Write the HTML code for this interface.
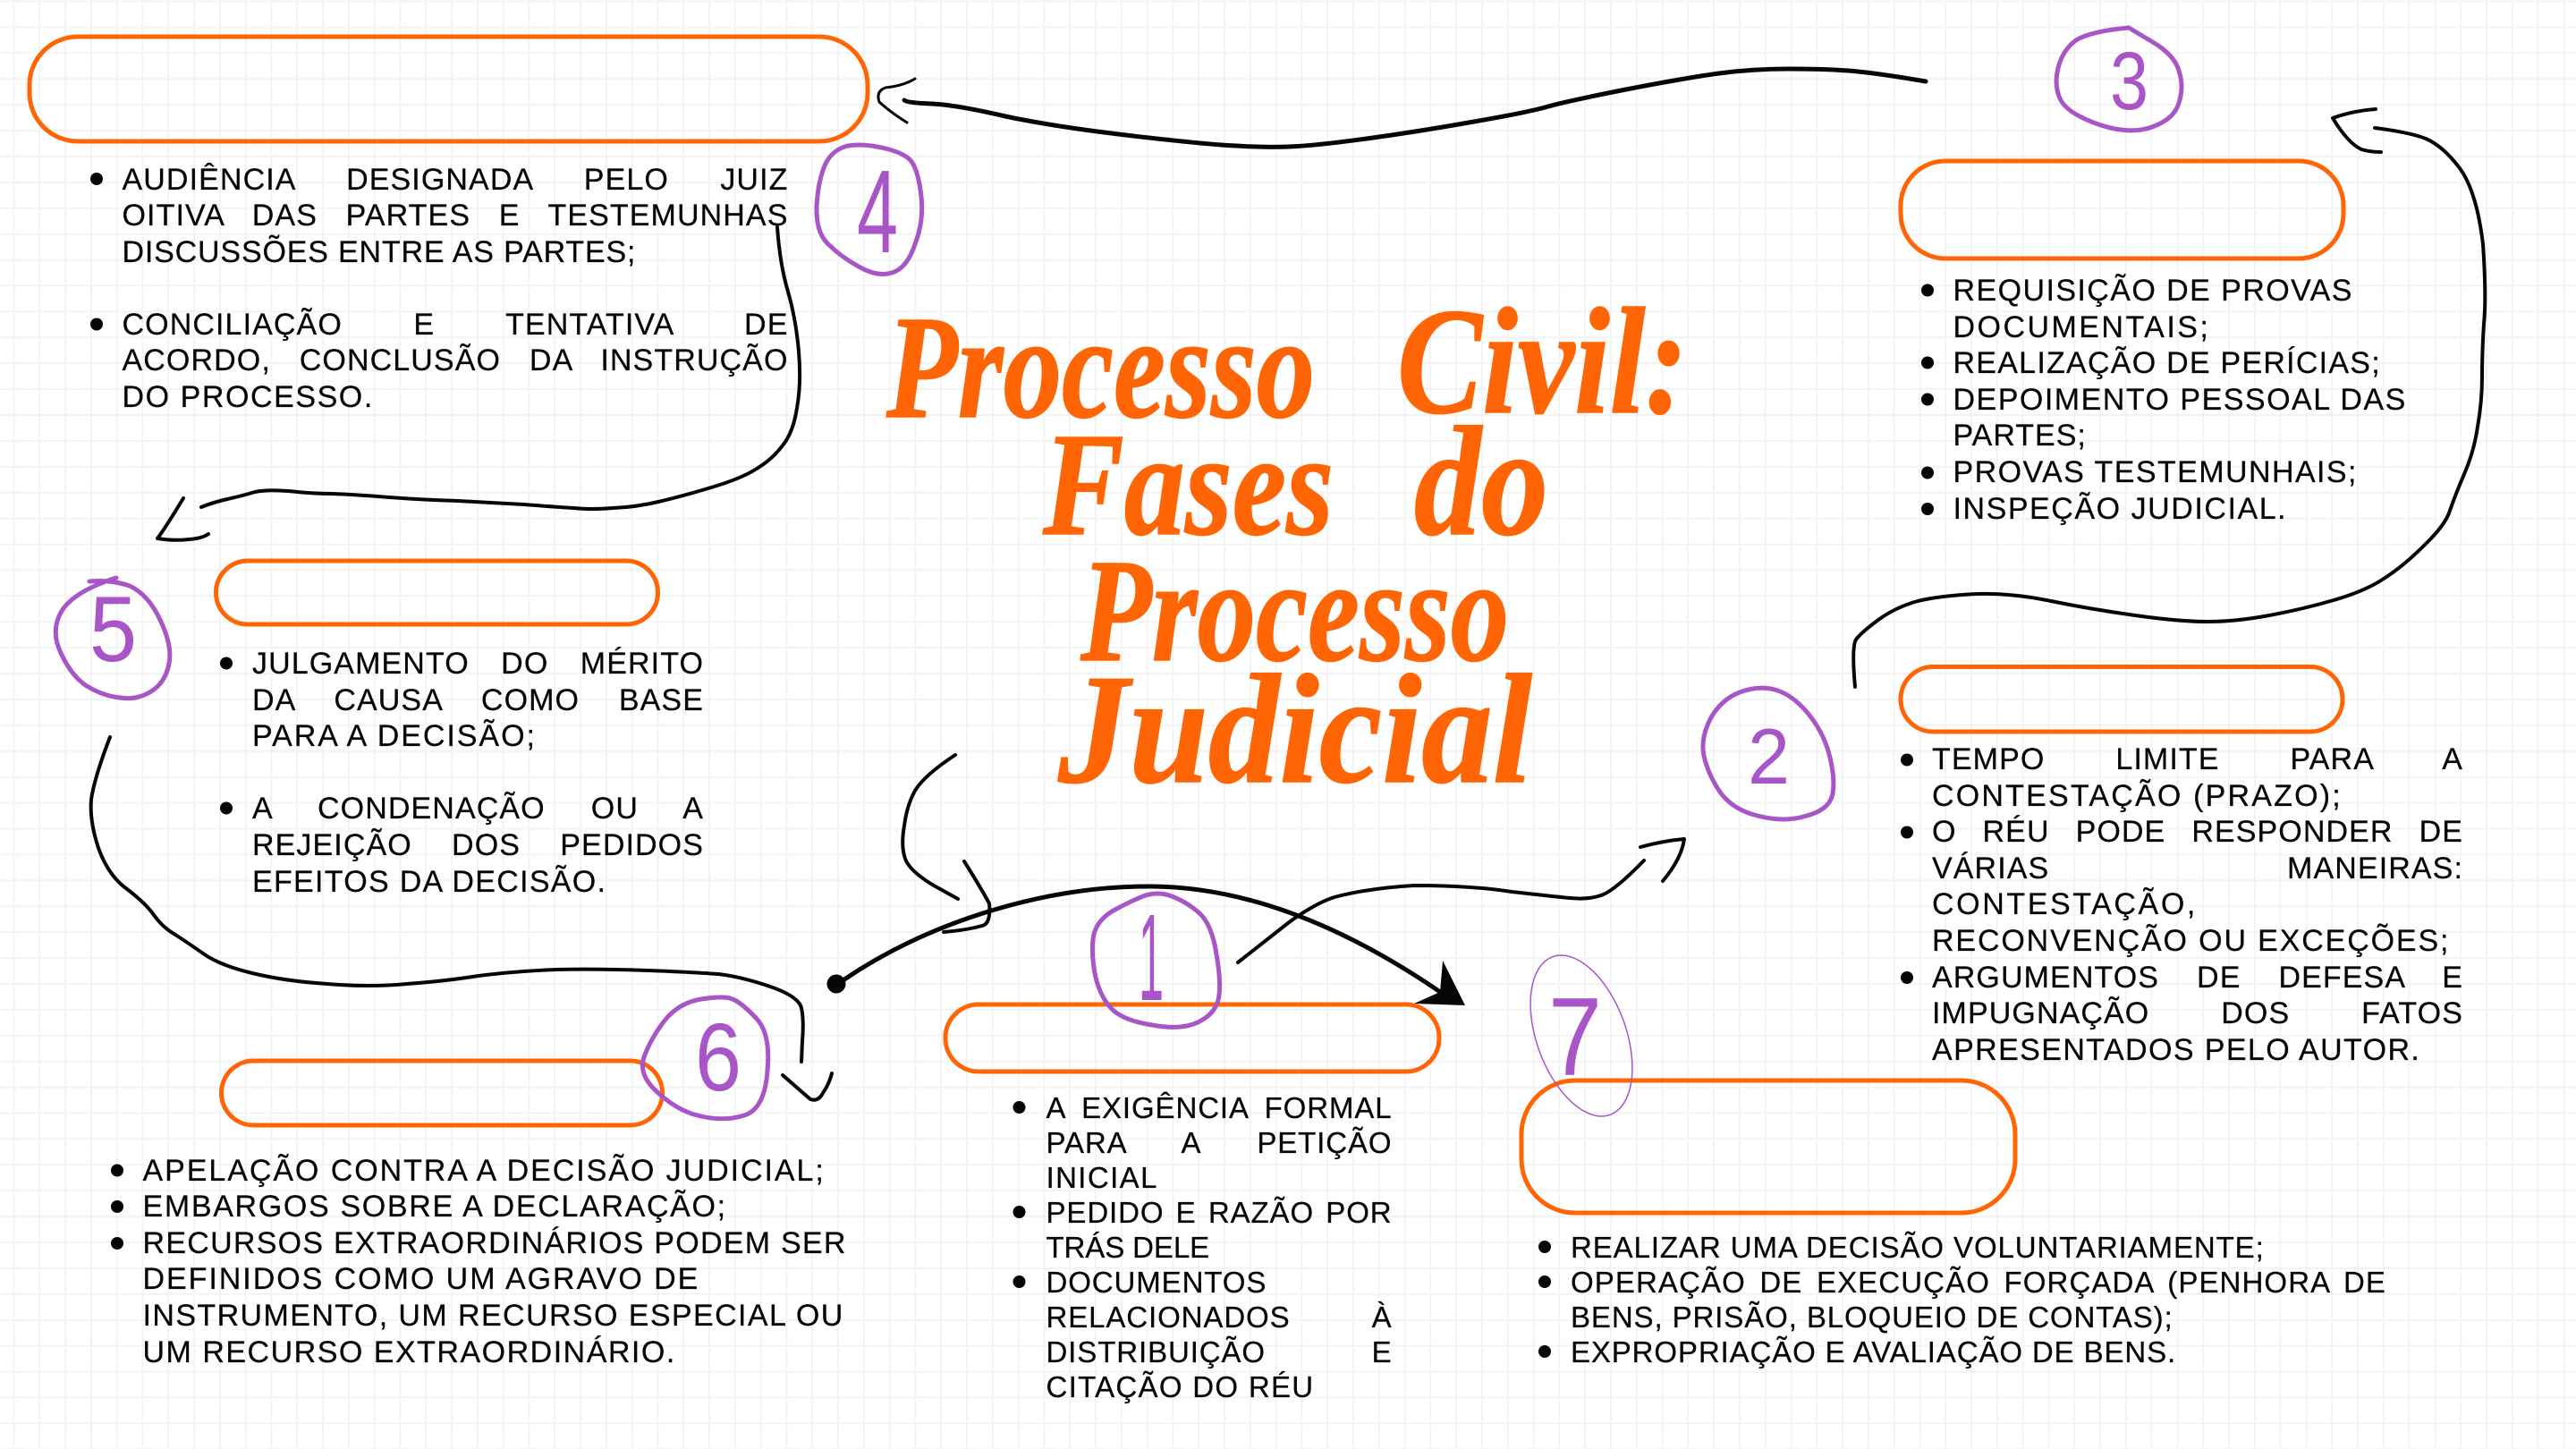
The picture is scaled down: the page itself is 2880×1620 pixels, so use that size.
<!DOCTYPE html>
<html lang="pt">
<head>
<meta charset="utf-8">
<title>Processo Civil: Fases do Processo Judicial</title>
<style>
html,body{margin:0;padding:0;background:#fff}
#p{position:relative;width:2880px;height:1620px;overflow:hidden;background-color:#fff;
background-image:linear-gradient(#f3f3f4 0 2px,transparent 2px),linear-gradient(90deg,#f3f3f4 0 2px,transparent 2px);
background-size:28.8px 28.92px;background-position:14.5px 0.5px}
svg{position:absolute;left:0;top:0}
.b{position:absolute;font-family:"Liberation Sans",sans-serif;font-size:34px;color:#060606;white-space:nowrap;letter-spacing:1.1px;-webkit-text-stroke:.25px #060606}
.b div{white-space:nowrap;min-height:1px}
.j{text-align:justify;text-align-last:justify;white-space:normal!important}
.l40 div{height:40.6px;line-height:40.6px}
.l39 div{height:39px;line-height:39px}
</style>
</head>
<body>
<div id="p">
<svg width="2880" height="1620" viewBox="0 0 2880 1620" xmlns="http://www.w3.org/2000/svg">
<g fill="none" stroke="#ff6505" stroke-width="5">
<rect x="33" y="41" width="937" height="117" rx="54"/>
<rect x="2125" y="180" width="495" height="109" rx="50"/>
<rect x="2125" y="745.5" width="494" height="72.5" rx="36"/>
<rect x="241.5" y="627" width="494" height="71" rx="35.5"/>
<rect x="247.5" y="1186" width="493" height="72" rx="36"/>
<rect x="1057" y="1123" width="552" height="75" rx="37"/>
<rect x="1701" y="1208" width="552" height="148" rx="60"/>
</g>

<g fill="none" stroke="#a855c7" stroke-width="5" stroke-linecap="round" stroke-linejoin="round">
<path d="M1310 1002Q1294 996 1278 1002Q1263 1008 1243 1019Q1224 1031 1222 1050Q1220 1070 1225 1093Q1231 1116 1243 1128Q1256 1141 1288 1146Q1320 1152 1339 1143Q1358 1134 1362 1118Q1366 1102 1360 1067Q1355 1033 1340 1020Q1326 1008 1310 1002Z"/>
<path d="M1984 771Q1966 766 1945 774Q1924 782 1912 804Q1901 826 1905 845Q1909 864 1922 884Q1936 905 1965 912Q1995 920 2020 912Q2046 905 2049 887Q2052 870 2045 843Q2038 817 2020 796Q2003 776 1984 771Z"/>
<path d="M2380 31Q2337 35 2321 45Q2306 56 2301 76Q2296 97 2304 112Q2312 127 2346 139Q2381 151 2406 142Q2431 133 2436 115Q2442 97 2436 79Q2431 61 2405 46L2380 31"/>
<path d="M990 166Q965 160 948 163Q931 167 923 183Q915 200 913 230Q912 260 926 273Q940 287 960 298Q981 310 997 305Q1014 300 1023 273Q1033 247 1030 220Q1027 193 1020 182Q1014 172 990 166Z"/>
<path d="M130 646Q83 661 69 683Q56 705 68 730Q80 756 97 767Q115 778 134 780Q153 783 169 773Q185 763 189 742Q193 722 179 693Q166 665 145 655Q125 648 100 650"/>
<path d="M819 1117Q810 1113 784 1117Q759 1121 743 1141Q727 1162 720 1182Q713 1202 736 1222Q759 1243 784 1248Q810 1254 832 1247Q855 1240 858 1197Q862 1155 845 1138Q829 1121 819 1117Z"/>
<ellipse cx="1768" cy="1158" rx="50" ry="94" transform="rotate(-20 1768 1158)" stroke-width="1.5"/>
</g>

<g fill="#a855c7" font-family="'Liberation Sans',sans-serif">
<text x="1273" y="1118" font-size="138" textLength="28" lengthAdjust="spacingAndGlyphs">1</text>
<text x="1954" y="876" font-size="88" textLength="47" lengthAdjust="spacingAndGlyphs">2</text>
<text x="2359" y="122" font-size="92" textLength="43" lengthAdjust="spacingAndGlyphs">3</text>
<text x="958" y="282" font-size="132" textLength="46" lengthAdjust="spacingAndGlyphs">4</text>
<text x="100" y="739" font-size="104" textLength="53" lengthAdjust="spacingAndGlyphs">5</text>
<text x="777" y="1219" font-size="108" textLength="52" lengthAdjust="spacingAndGlyphs">6</text>
<text x="1731" y="1202" font-size="124" textLength="60" lengthAdjust="spacingAndGlyphs">7</text>
</g>

<g fill="#ff6505" stroke="#ff6505" stroke-width="1.5" font-family="'Liberation Serif',serif" font-weight="bold" font-style="italic">
<text x="991" y="466" font-size="165" textLength="479" lengthAdjust="spacingAndGlyphs">Processo</text>
<text x="1562" y="461" font-size="170" textLength="325" lengthAdjust="spacingAndGlyphs">Civil:</text>
<text x="1166" y="597" font-size="165" textLength="325" lengthAdjust="spacingAndGlyphs">Fases</text>
<text x="1581" y="597" font-size="175" textLength="150" lengthAdjust="spacingAndGlyphs">do</text>
<text x="1208" y="738" font-size="165" textLength="479" lengthAdjust="spacingAndGlyphs">Processo</text>
<text x="1183" y="874" font-size="175" textLength="530" lengthAdjust="spacingAndGlyphs">Judicial</text>
</g>

<g fill="none" stroke="#060606" stroke-width="4" stroke-linecap="round" stroke-linejoin="round">
<path stroke-width="5" d="M2153 91Q2094 81 2066 79Q2038 77 1999 77Q1960 77 1922 82Q1885 87 1818 100Q1752 113 1731 119Q1711 125 1648 136Q1586 147 1528 155Q1470 163 1441 164Q1412 165 1383 163Q1354 162 1267 152Q1180 142 1124 130Q1068 117 1041 116Q1014 115 1011 112"/>
<path stroke-width="3" d="M1023 88Q1010 96 990 98Q979 102 983 114Q995 125 1014 137"/>
<path d="M869 254Q872 296 881 326Q890 357 893 393Q896 429 891 456Q887 483 875 498Q864 513 846 524Q829 535 795 545Q762 555 736 561Q711 567 685 568Q660 570 642 568Q624 567 586 564Q548 562 512 560Q476 559 435 556Q395 553 372 552Q349 552 323 549Q298 547 285 550Q272 554 254 558Q237 562 225 567"/>
<path d="M205 557Q185 590 176 602Q195 605 211 603Q226 602 233 597"/>
<path d="M123 824Q105 871 102 894Q100 918 110 948Q121 979 142 994Q163 1010 172 1023Q182 1037 196 1045Q210 1054 227 1066Q245 1079 282 1088Q319 1097 366 1100Q414 1104 455 1100Q497 1097 535 1091Q574 1086 622 1084Q670 1083 724 1085Q778 1087 803 1089Q829 1092 861 1103Q893 1114 896 1127Q899 1141 897 1164L896 1187"/>
<path d="M875 1202Q890 1215 906 1229Q915 1232 920 1222Q927 1212 930 1200"/>
<path stroke-width="5" d="M944 1095C1040 1030 1170 990 1288 991C1400 992 1510 1040 1613 1111"/>
<path d="M1068 844Q1033 867 1023 884Q1014 900 1011 923Q1007 946 1012 960Q1017 974 1044 990L1071 1005"/>
<path d="M1078 963Q1095 990 1106 1010Q1108 1033 1098 1035Q1080 1040 1055 1042"/>
<path d="M1384 1076L1440 1032Q1470 1010 1492 1003Q1530 993 1581 990Q1645 990 1690 997Q1735 1002 1755 1004Q1776 1006 1790 1001Q1805 996 1838 962"/>
<path d="M1834 947Q1860 940 1883 938Q1880 960 1859 985"/>
<path d="M2074 768Q2070 724 2075 715Q2081 707 2100 693Q2119 679 2144 672Q2169 666 2210 664Q2250 663 2293 672Q2337 681 2387 688Q2437 695 2468 695Q2500 695 2537 688Q2575 681 2609 671Q2644 661 2665 647Q2687 633 2710 610Q2734 587 2739 571Q2744 556 2755 530Q2766 505 2770 477Q2775 449 2775 421Q2775 393 2777 362Q2780 332 2776 273Q2769 214 2750 188Q2731 163 2712 155Q2694 148 2655 143"/>
<path d="M2656 122Q2630 124 2608 132Q2625 160 2640 167Q2650 170 2662 170"/>
</g>
<circle cx="935" cy="1100" r="10.5" fill="#060606"/>
<polygon points="1613,1074 1638,1124 1581,1122 1610,1109" fill="#060606"/>

<g fill="#060606">
<circle cx="108" cy="200" r="7"/><circle cx="108" cy="362.5" r="7"/>
<circle cx="2155" cy="324.5" r="7"/><circle cx="2155" cy="405.5" r="7"/><circle cx="2155" cy="446.5" r="7"/><circle cx="2155" cy="528.5" r="7"/><circle cx="2155" cy="569" r="7"/>
<circle cx="2132" cy="849.5" r="7"/><circle cx="2132" cy="930.5" r="7"/><circle cx="2132" cy="1093" r="7"/>
<circle cx="1727" cy="1394" r="7"/><circle cx="1727" cy="1433" r="7"/><circle cx="1727" cy="1511" r="7"/>
<circle cx="1139.5" cy="1238" r="7"/><circle cx="1139.5" cy="1355" r="7"/><circle cx="1139.5" cy="1433" r="7"/>
<circle cx="253" cy="741.5" r="7"/><circle cx="253" cy="903.5" r="7"/>
<circle cx="131" cy="1308.5" r="7"/><circle cx="131" cy="1349" r="7"/><circle cx="131" cy="1390" r="7"/>
</g>
</svg>

<div class="b l40" style="left:136.5px;top:180.5px;width:745px">
<div class="j">AUDIÊNCIA DESIGNADA PELO JUIZ</div>
<div class="j">OITIVA DAS PARTES E TESTEMUNHAS</div>
<div style="letter-spacing:.83px">DISCUSSÕES ENTRE AS PARTES;</div>
<div></div>
<div class="j">CONCILIAÇÃO E TENTATIVA DE</div>
<div class="j">ACORDO, CONCLUSÃO DA INSTRUÇÃO</div>
<div style="letter-spacing:1.56px">DO PROCESSO.</div>
</div>

<div class="b l40" style="left:2183.5px;top:305px;width:560px;letter-spacing:1.25px">
<div style="letter-spacing:1.43px">REQUISIÇÃO DE PROVAS</div>
<div style="letter-spacing:2.47px">DOCUMENTAIS;</div>
<div>REALIZAÇÃO DE PERÍCIAS;</div>
<div style="letter-spacing:1.5px">DEPOIMENTO PESSOAL DAS</div>
<div style="letter-spacing:1px">PARTES;</div>
<div style="letter-spacing:1.43px">PROVAS TESTEMUNHAIS;</div>
<div style="letter-spacing:1.55px">INSPEÇÃO JUDICIAL.</div>
</div>

<div class="b l40" style="left:2160px;top:829px;width:594px">
<div class="j">TEMPO LIMITE PARA A</div>
<div style="letter-spacing:2.2px">CONTESTAÇÃO (PRAZO);</div>
<div class="j">O RÉU PODE RESPONDER DE</div>
<div class="j">VÁRIAS MANEIRAS:</div>
<div style="letter-spacing:2.6px">CONTESTAÇÃO,</div>
<div style="letter-spacing:1.86px">RECONVENÇÃO OU EXCEÇÕES;</div>
<div class="j">ARGUMENTOS DE DEFESA E</div>
<div class="j">IMPUGNAÇÃO DOS FATOS</div>
<div style="letter-spacing:1.4px">APRESENTADOS PELO AUTOR.</div>
</div>

<div class="b l39" style="left:1756px;top:1374.7px;width:912px;font-size:33px">
<div style="letter-spacing:.91px">REALIZAR UMA DECISÃO VOLUNTARIAMENTE;</div>
<div class="j">OPERAÇÃO DE EXECUÇÃO FORÇADA (PENHORA DE</div>
<div style="letter-spacing:.9px">BENS, PRISÃO, BLOQUEIO DE CONTAS);</div>
<div style="letter-spacing:.88px">EXPROPRIAÇÃO E AVALIAÇÃO DE BENS.</div>
</div>

<div class="b l39" style="left:1169.5px;top:1218.7px;width:387px;font-size:33px;letter-spacing:.9px">
<div class="j">A EXIGÊNCIA FORMAL</div>
<div class="j">PARA A PETIÇÃO</div>
<div style="letter-spacing:1.4px">INICIAL</div>
<div class="j">PEDIDO E RAZÃO POR</div>
<div style="letter-spacing:-.1px">TRÁS DELE</div>
<div>DOCUMENTOS</div>
<div class="j">RELACIONADOS À</div>
<div class="j">DISTRIBUIÇÃO E</div>
<div style="letter-spacing:1.3px">CITAÇÃO DO RÉU</div>
</div>

<div class="b l40" style="left:282px;top:722px;width:505px">
<div class="j">JULGAMENTO DO MÉRITO</div>
<div class="j">DA CAUSA COMO BASE</div>
<div style="letter-spacing:1.96px">PARA A DECISÃO;</div>
<div></div>
<div class="j">A CONDENAÇÃO OU A</div>
<div class="j">REJEIÇÃO DOS PEDIDOS</div>
<div style="letter-spacing:1.3px">EFEITOS DA DECISÃO.</div>
</div>

<div class="b l40" style="left:159.5px;top:1288.6px;width:800px;letter-spacing:1.15px">
<div style="letter-spacing:1.94px">APELAÇÃO CONTRA A DECISÃO JUDICIAL;</div>
<div style="letter-spacing:1.67px">EMBARGOS SOBRE A DECLARAÇÃO;</div>
<div style="letter-spacing:1.26px">RECURSOS EXTRAORDINÁRIOS PODEM SER</div>
<div style="letter-spacing:1.96px">DEFINIDOS COMO UM AGRAVO DE</div>
<div style="letter-spacing:1.41px">INSTRUMENTO, UM RECURSO ESPECIAL OU</div>
<div style="letter-spacing:1.5px">UM RECURSO EXTRAORDINÁRIO.</div>
</div>
</div>
</body>
</html>
